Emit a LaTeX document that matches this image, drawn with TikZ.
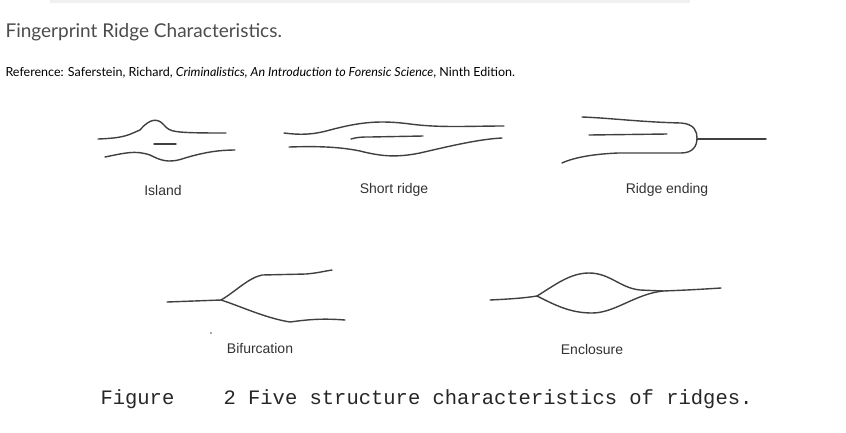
\documentclass[tikz,border=0pt]{standalone}
\usepackage{fontspec}
\setmainfont{Lato}
\newfontfamily\monof{Liberation Mono}
\newfontfamily\labf{Liberation Sans}
\begin{document}
\begin{tikzpicture}[x=1pt,y=-1pt,
  ridge/.style={line width=1.4pt,draw=black!75,line cap=round},
  lab/.style={font=\labf\fontsize{14}{16}\selectfont,text=black!80}]
\useasboundingbox (0,0) rectangle (846,432);
\fill[black!6] (50,0) rectangle (690,3);
\node[anchor=west,font=\fontsize{19}{22}\selectfont,text=black!70] (title) at (2,32) {Fingerprint Ridge Characteristics.};
\node[anchor=west,font=\fontsize{12.5}{14}\selectfont] (ref) at (2,73) {Reference: Saferstein, Richard, \textit{Criminalistics, An Introduction to Forensic Science}, Ninth Edition.};
% Island
\draw[ridge] (98,139) .. controls (125,138) and (128,135) .. (140,130) .. controls (150,118) and (158,118) .. (164,125) .. controls (170,132) and (172,133) .. (226,133);
\draw[ridge] (154,144) -- (176,144);
\draw[ridge] (105,157) .. controls (125,153) and (135,150) .. (150,155) .. controls (160,160) and (168,164) .. (185,158) .. controls (205,152) and (220,150) .. (235,150);
\node[lab] (l1) at (163,190) {Island};
% Short ridge
\draw[ridge] (284,133) .. controls (300,135) and (312,135) .. (330,130) .. controls (360,122) and (380,120) .. (410,124) .. controls (440,128) and (470,126) .. (504,126);
\draw[ridge] (289,147) .. controls (320,146) and (340,147) .. (360,151) .. controls (380,156) and (395,158) .. (420,153) .. controls (450,146) and (480,139) .. (502,138);
\draw[ridge] (351,139) .. controls (358,137) and (362,137) .. (370,137) -- (423,136);
\node[lab] (l2) at (394,190) {Short ridge};
% Ridge ending
\draw[ridge] (582,117) .. controls (610,118) and (640,122) .. (681,123) .. controls (695,124) and (697,132) .. (697,138) .. controls (697,146) and (693,153) .. (681,153) -- (618,153) .. controls (595,154) and (575,157) .. (562,163);
\draw[ridge] (697,139) -- (766,139);
\draw[ridge] (589,135) -- (667,134);
\node[lab] (l3) at (667,190) {Ridge ending};
% Bifurcation
\coordinate (bf) at (221,300);
\draw[ridge] (167,302) -- (bf);
\draw[ridge] (bf) .. controls (235,292) and (248,278) .. (262,275) -- (306,274) .. controls (318,273) and (325,271) .. (332,270);
\draw[ridge] (bf) .. controls (240,306) and (265,318) .. (290,322) .. controls (305,320) and (320,318) .. (345,320);
\fill[black!70] (211,333) circle (0.8);
\node[lab] (l4) at (260,348) {Bifurcation};
% Enclosure
\coordinate (el) at (537,296);
\coordinate (er) at (663,291);
\draw[ridge] (490,300) .. controls (510,299) and (525,298) .. (el);
\draw[ridge] (el) .. controls (555,285) and (570,273) .. (589,273) .. controls (610,273) and (620,288) .. (640,290) -- (er);
\draw[ridge] (el) .. controls (555,305) and (570,313) .. (592,313) .. controls (615,313) and (635,294) .. (er);
\draw[ridge] (er) .. controls (690,290) and (705,289) .. (721,288);
\node[lab] (l5) at (592,349) {Enclosure};
\node[anchor=west,font=\monof\fontsize{20.5}{23}\selectfont,text=black!85] (cap) at (97,399) {Figure\ \ \ \ 2 Five structure characteristics of ridges.};
\end{tikzpicture}
\end{document}
